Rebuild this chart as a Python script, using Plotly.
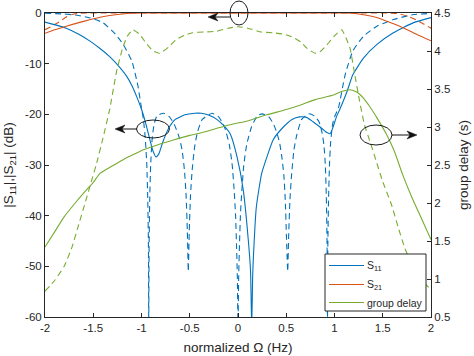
import plotly.graph_objects as go

# ---------------- data ----------------
# |S11| solid (dB)
s11_x = [-2.0, -1.9, -1.78, -1.65, -1.53, -1.43, -1.33, -1.25, -1.15, -1.10, -1.05, -1.00,
         -0.96, -0.92, -0.88, -0.85, -0.82, -0.78, -0.72, -0.65, -0.55, -0.45, -0.38, -0.30,
         -0.22, -0.15, -0.08, -0.01, 0.055, 0.107, 0.130, 0.142, 0.152, 0.16, 0.19, 0.245,
         0.30, 0.365, 0.47, 0.56, 0.64, 0.71, 0.78, 0.87, 0.92, 0.955, 0.98, 1.02, 1.06,
         1.13, 1.19, 1.30, 1.44, 1.61, 1.82, 2.0]
s11_db = [-1.8, -2.3, -3.0, -4.2, -5.6, -7.0, -8.6, -10.2, -12.6, -14.3, -16.5, -19.0,
          -21.5, -24.5, -27.3, -28.4, -27.8, -25.5, -22.8, -21.0, -20.1, -19.8, -19.8, -20.2,
          -21.0, -22.2, -23.9, -28.4, -35.0, -44.9, -51.0, -62.0, -52.0, -48.0, -38.3, -31.7,
          -28.4, -25.0, -22.5, -21.0, -20.5, -20.6, -21.5, -22.8, -23.6, -23.8, -22.8, -20.5, -18.8,
          -15.5, -12.2, -8.9, -6.2, -3.9, -1.9, -0.9]

# |S11| dashed (dB)
s11d_x = [-2.0, -1.8, -1.65, -1.53, -1.40, -1.27, -1.19, -1.10, -1.04, -1.00, -0.98, -0.96,
          -0.945, -0.935, -0.928, -0.925, -0.921, -0.915, -0.905, -0.89, -0.87, -0.84, -0.77,
          -0.71, -0.66, -0.61, -0.58, -0.555, -0.538, -0.525, -0.515, -0.505, -0.492, -0.475,
          -0.45, -0.42, -0.37, -0.27, -0.20, -0.14, -0.09, -0.06, -0.04, -0.025, -0.015, -0.007,
          0.0, 0.007, 0.015, 0.025, 0.04, 0.06, 0.09, 0.14, 0.20, 0.25, 0.32, 0.37, 0.40, 0.43,
          0.455, 0.475, 0.49, 0.502, 0.515, 0.525, 0.538, 0.555, 0.58, 0.61, 0.66, 0.73, 0.79,
          0.84, 0.87, 0.89, 0.905, 0.915, 0.923, 0.927, 0.931, 0.938, 0.948, 0.96, 0.98, 1.00,
          1.04, 1.11, 1.19, 1.30, 1.44, 1.61, 1.82, 2.0]
s11d_db = [-0.05, -0.2, -0.5, -1.0, -1.9, -4.2, -6.2, -9.5, -14.1, -18.8, -21.0, -25.0,
           -30.0, -37.0, -46.0, -62.0, -46.0, -37.0, -30.0, -25.0, -22.0, -20.3, -19.8,
           -20.5, -22.0, -24.5, -27.0, -31.0, -36.0, -43.0, -51.0, -43.0, -36.0, -31.0,
           -26.5, -23.5, -21.0, -19.8, -20.5, -22.5, -26.0, -30.0, -35.0, -40.0, -46.0, -52.0,
           -62.0, -52.0, -46.0, -40.0, -35.0, -30.0, -26.0, -22.5, -20.3, -19.9, -20.5, -22.0, -23.5, -25.5,
           -28.5, -32.0, -37.0, -44.0, -51.0, -44.0, -37.0, -32.0, -27.0, -24.0, -21.0, -19.9, -20.3,
           -21.5, -23.5, -26.0, -30.0, -36.0, -46.0, -62.0, -46.0, -37.0, -30.0, -25.5, -22.0, -20.5,
           -18.8, -12.2, -7.5, -4.6, -2.6, -1.3, -0.3, -0.1]

# |S21| solid (dB)
s21_x = [-2.0, -1.9, -1.78, -1.65, -1.53, -1.43, -1.33, -1.20, -1.10, -1.00, 0.0, 1.10,
         1.19, 1.30, 1.44, 1.55, 1.71, 1.85, 2.0]
s21_db = [-4.0, -3.3, -2.6, -1.9, -1.3, -0.85, -0.5, -0.2, -0.05, 0.0, 0.0, 0.0,
          -0.05, -0.35, -0.9, -1.7, -2.9, -4.2, -5.5]

# |S21| dashed (dB)
s21d_x = [-2.0, -1.92, -1.84, -1.78, -1.72, -1.65, -1.55, 0.0, 1.55, 1.65, 1.75, 1.85, 2.0]
s21d_db = [-3.3, -2.5, -1.6, -0.8, -0.3, -0.05, 0.0, 0.0, 0.0, -0.1, -0.6, -1.4, -3.0]

# group delay solid (s)
gd_x = [-2.0, -1.9, -1.8, -1.7, -1.6, -1.5, -1.43, -1.3, -1.19, -1.08, -0.98, -0.8, -0.67,
        -0.5, -0.39, -0.2, -0.05, 0.1, 0.3, 0.5, 0.65, 0.8, 0.99, 1.08, 1.16, 1.23, 1.30,
        1.37, 1.44, 1.54, 1.62, 1.71, 1.8, 1.9, 2.0]
gd_s = [1.42, 1.62, 1.82, 1.98, 2.13, 2.27, 2.39, 2.49, 2.57, 2.64, 2.70, 2.78, 2.83,
        2.89, 2.92, 2.99, 3.04, 3.08, 3.16, 3.23, 3.29, 3.36, 3.42, 3.47, 3.49, 3.46, 3.38,
        3.26, 3.12, 2.90, 2.68, 2.36, 2.08, 1.80, 1.52]

# group delay dashed (s)
gdd_x = [-2.0, -1.9, -1.8, -1.72, -1.65, -1.58, -1.52, -1.47, -1.40, -1.33, -1.26, -1.2, -1.15,
         -1.09, -1.02, -0.95, -0.88, -0.81, -0.72, -0.64, -0.55, -0.47, -0.35, -0.22, -0.1,
         0.0, 0.1, 0.24, 0.36, 0.48, 0.57, 0.65, 0.72, 0.80, 0.86, 0.92, 1.0, 1.075, 1.16,
         1.21, 1.26, 1.31, 1.37, 1.44, 1.5, 1.59, 1.66, 1.73, 1.81, 1.9, 2.0]
gdd_s = [0.84, 0.98, 1.17, 1.42, 1.72, 2.02, 2.28, 2.50, 2.85, 3.23, 3.72, 4.02, 4.19,
         4.28, 4.22, 4.10, 4.00, 3.97, 4.05, 4.15, 4.21, 4.24, 4.25, 4.26, 4.30,
         4.32, 4.30, 4.25, 4.24, 4.22, 4.18, 4.12, 4.03, 3.97, 4.00, 4.08, 4.20, 4.28, 4.04,
         3.69, 3.34, 3.03, 2.80, 2.52, 2.28, 1.98, 1.68, 1.40, 1.17, 0.99, 0.86]

# axis ticks
x_ticks = [-2, -1.5, -1, -0.5, 0, 0.5, 1, 1.5, 2]
x_tick_labels = ["-2", "-1.5", "-1", "-0.5", "0", "0.5", "1", "1.5", "2"]
y_ticks = [-60, -50, -40, -30, -20, -10, 0]
y_tick_labels = ["-60", "-50", "-40", "-30", "-20", "-10", "0"]
y2_ticks = [0.5, 1, 1.5, 2, 2.5, 3, 3.5, 4, 4.5]
y2_tick_labels = ["0.5", "1", "1.5", "2", "2.5", "3", "3.5", "4", "4.5"]

legend_names = ["S<sub>11</sub>", "S<sub>21</sub>", "group delay"]

# ---------------- figure ----------------
BLUE = "#0072BD"
RED = "#D95319"
GREEN = "#77AC30"
AX = "#262626"
FONT = "Liberation Sans, Arial, sans-serif"
DASH = "6px,4px"

fig = go.Figure()
LW = 1.1

fig.add_trace(go.Scatter(x=gdd_x, y=gdd_s, yaxis="y2", mode="lines", showlegend=False,
                         line=dict(color=GREEN, width=LW, dash=DASH, shape="spline", smoothing=0.4)))
fig.add_trace(go.Scatter(x=gd_x, y=gd_s, yaxis="y2", mode="lines", showlegend=False,
                         name=legend_names[2],
                         line=dict(color=GREEN, width=LW, shape="spline", smoothing=0.6)))
fig.add_trace(go.Scatter(x=s11d_x, y=s11d_db, mode="lines", showlegend=False,
                         line=dict(color=BLUE, width=LW, dash=DASH, shape="spline", smoothing=0.5)))
fig.add_trace(go.Scatter(x=s21d_x, y=s21d_db, mode="lines", showlegend=False,
                         line=dict(color=RED, width=LW, dash=DASH, shape="spline", smoothing=0.6)))
fig.add_trace(go.Scatter(x=s11_x, y=s11_db, mode="lines", name=legend_names[0], showlegend=False,
                         line=dict(color=BLUE, width=LW, shape="spline", smoothing=0.5)))
fig.add_trace(go.Scatter(x=s21_x, y=s21_db, mode="lines", name=legend_names[1], showlegend=False,
                         line=dict(color=RED, width=LW, shape="spline", smoothing=0.6)))

fig.update_layout(
    width=474, height=356,
    margin=dict(l=45, r=43, t=13, b=39, autoexpand=False),
    paper_bgcolor="white", plot_bgcolor="white",
    font=dict(family=FONT, size=11.5, color=AX),
    xaxis=dict(range=[-2, 2], tickvals=x_ticks, ticktext=x_tick_labels, ticks="inside",
               ticklen=4, tickcolor=AX, showline=True, linecolor=AX, linewidth=1,
               mirror="ticks", showgrid=False, zeroline=False, automargin=False,
               title=dict(text="normalized Ω (Hz)", standoff=9, font=dict(size=13.5))),
    yaxis=dict(range=[-60, 0], tickvals=y_ticks, ticktext=y_tick_labels, ticks="inside",
               ticklen=4, tickcolor=AX, showline=True, linecolor=AX, linewidth=1,
               showgrid=False, zeroline=False, automargin=False,
               title=dict(text="|S<sub>11</sub>|,|S<sub>21</sub>| (dB)", standoff=8,
                          font=dict(size=13.5))),
    yaxis2=dict(range=[0.5, 4.5], tickvals=y2_ticks, ticktext=y2_tick_labels, ticks="inside",
                ticklen=4, tickcolor=AX, showline=True, linecolor=AX, linewidth=1,
                overlaying="y", side="right", showgrid=False, zeroline=False, automargin=False,
                title=dict(text="group delay (s)", standoff=9, font=dict(size=13.5))),
    showlegend=False,
)

def px2paper(px, py):
    return (px - 45) / 386.0, (317 - py) / 304.0

# legend box (drawn as shapes + text, MATLAB style)
lx0, ly0 = px2paper(325, 311)
lx1, ly1 = px2paper(426, 254)
fig.add_shape(type="rect", xref="paper", yref="paper", x0=lx0, y0=ly0, x1=lx1, y1=ly1,
              fillcolor="white", line=dict(color=AX, width=1), layer="above")
for name, color, py in zip(legend_names, [BLUE, RED, GREEN], [265.5, 284.5, 302.5]):
    sx0, sy = px2paper(329, py)
    sx1, _ = px2paper(364, py)
    fig.add_shape(type="line", xref="paper", yref="paper", x0=sx0, y0=sy, x1=sx1, y1=sy,
                  line=dict(color=color, width=LW), layer="above")
    tx, ty = px2paper(365.5, py)
    fig.add_annotation(x=tx, y=ty, xref="paper", yref="paper", text=name, showarrow=False,
                       xanchor="left", yanchor="middle", borderpad=0,
                       font=dict(size=10.5, color=AX))

# ellipses
for cx, cy, w, h in [(239, 13, 18, 24), (153, 129, 33, 18), (376, 135, 32, 20)]:
    x0, y0 = px2paper(cx - w / 2, cy + h / 2)
    x1, y1 = px2paper(cx + w / 2, cy - h / 2)
    fig.add_shape(type="circle", xref="paper", yref="paper", x0=x0, y0=y0, x1=x1, y1=y1,
                  line=dict(color="#1a1a1a", width=1))

# arrows: shaft + filled head (head x, y, tail x) in pixels
for hx, hy, tx in [(208, 17, 230), (115, 129, 137), (417, 135, 392)]:
    d = 1 if tx > hx else -1
    x0, y0 = px2paper(tx, hy)
    x1, y1 = px2paper(hx + d * 4, hy)
    fig.add_shape(type="line", xref="paper", yref="paper", x0=x0, y0=y0, x1=x1, y1=y1,
                  line=dict(color="#111111", width=1))
    pts = [(hx, hy), (hx + d * 10, hy - 4), (hx + d * 7, hy), (hx + d * 10, hy + 4)]
    path = "M " + " L ".join("%.5f,%.5f" % px2paper(px, py) for px, py in pts) + " Z"
    fig.add_shape(type="path", xref="paper", yref="paper", path=path,
                  fillcolor="#111111", line=dict(color="#111111", width=0.5))

fig.write_html("out.html", config={"displayModeBar": False},
               post_script="document.body.style.margin='0';document.body.style.padding='0';"
                           "document.body.style.overflow='hidden';")
